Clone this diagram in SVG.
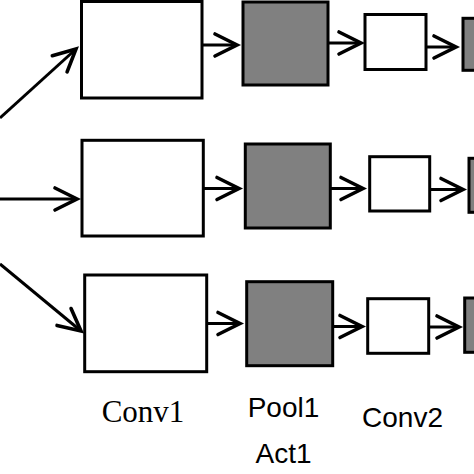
<svg xmlns="http://www.w3.org/2000/svg" width="474" height="474" viewBox="0 0 474 474">
<defs>
<style>
.box{fill:#ffffff;stroke:#000;stroke-width:3}
.gray{fill:#808080;stroke:#000;stroke-width:3}
.edge{stroke:#000;stroke-width:3;fill:none}
.serif{font-family:"Liberation Serif","Times New Roman",serif;font-size:31px;fill:#000}
.sans{font-family:"Liberation Sans",Arial,sans-serif;font-size:28px;fill:#000}
</style>
<marker id="arr" markerUnits="userSpaceOnUse" markerWidth="30" markerHeight="30" viewBox="-25 -15 30 30" refX="0" refY="0" orient="auto">
<path d="M-22,-11 L0,0 L-22,11" fill="none" stroke="#000" stroke-width="3.6" stroke-linecap="round" stroke-linejoin="miter"/>
</marker>
</defs>
<rect width="474" height="474" fill="#ffffff"/>
<g id="connectors">
<line class="edge" x1="0" y1="118" x2="76" y2="49" marker-end="url(#arr)"/>
<line class="edge" x1="0" y1="199" x2="77" y2="199" marker-end="url(#arr)"/>
<line class="edge" x1="0" y1="264" x2="81" y2="331" marker-end="url(#arr)"/>
<line class="edge" x1="203" y1="45" x2="237" y2="45" marker-end="url(#arr)"/>
<line class="edge" x1="204" y1="188.5" x2="239" y2="188.5" marker-end="url(#arr)"/>
<line class="edge" x1="207" y1="323.5" x2="240" y2="323.5" marker-end="url(#arr)"/>
<line class="edge" x1="328" y1="43" x2="361" y2="43" marker-end="url(#arr)"/>
<line class="edge" x1="331" y1="188.5" x2="363" y2="188.5" marker-end="url(#arr)"/>
<line class="edge" x1="333" y1="326.5" x2="362" y2="326.5" marker-end="url(#arr)"/>
<line class="edge" x1="426" y1="47" x2="456" y2="47" marker-end="url(#arr)"/>
<line class="edge" x1="430" y1="189.5" x2="463" y2="189.5" marker-end="url(#arr)"/>
<line class="edge" x1="429" y1="327" x2="459" y2="327" marker-end="url(#arr)"/>
</g>
<g id="r1-conv1"><rect class="box" x="81.5" y="1.5" width="120.5" height="96.5"/></g>
<g id="r1-pool1"><rect class="gray" x="243" y="2" width="85" height="83"/></g>
<g id="r1-conv2"><rect class="box" x="365" y="14.5" width="61" height="55"/></g>
<g id="r1-pool2"><rect class="gray" x="463" y="18.3" width="20" height="52"/></g>
<g id="r2-conv1"><rect class="box" x="82" y="140.3" width="121.3" height="95.7"/></g>
<g id="r2-pool1"><rect class="gray" x="245.3" y="144" width="85" height="84"/></g>
<g id="r2-conv2"><rect class="box" x="369.7" y="156.7" width="60" height="54.3"/></g>
<g id="r2-pool2"><rect class="gray" x="469" y="158.3" width="20" height="54"/></g>
<g id="r3-conv1"><rect class="box" x="84.7" y="275" width="122" height="96.7"/></g>
<g id="r3-pool1"><rect class="gray" x="246.7" y="281.7" width="86" height="84"/></g>
<g id="r3-conv2"><rect class="box" x="367.7" y="298.7" width="61" height="54.6"/></g>
<g id="r3-pool2"><rect class="gray" x="464.7" y="298" width="20" height="54.3"/></g>
<g id="labels">
<text class="serif" x="143" y="422" text-anchor="middle">Conv1</text>
<text class="sans" x="283.5" y="417" text-anchor="middle">Pool1</text>
<text class="sans" x="283.5" y="463" text-anchor="middle">Act1</text>
<text class="sans" x="402.5" y="427" text-anchor="middle">Conv2</text>
</g>
</svg>
